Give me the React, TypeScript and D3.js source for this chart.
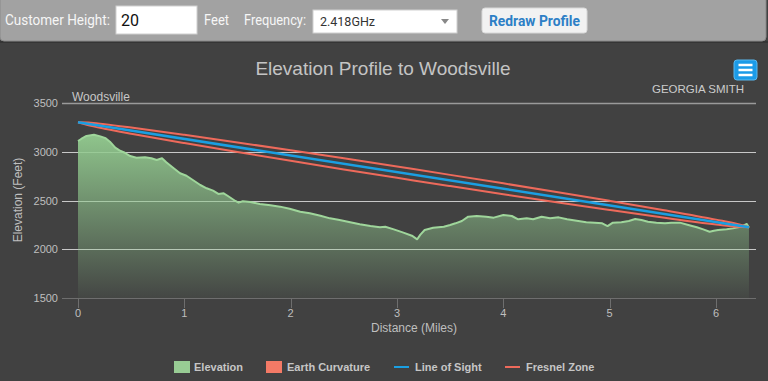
import React from "react";
import * as d3 from "d3";

// ---- Data ----
const distances = [0.0,0.03,0.08,0.15,0.21,0.26,0.30,0.35,0.39,0.44,0.49,0.55,0.63,0.69,0.74,0.79,0.83,0.90,0.96,1.02,1.08,1.15,1.21,1.27,1.32,1.37,1.41,1.48,1.51,1.55,1.62,1.71,1.81,1.90,1.99,2.09,2.18,2.28,2.37,2.46,2.56,2.65,2.75,2.84,2.89,2.97,3.06,3.14,3.19,3.22,3.26,3.34,3.44,3.50,3.55,3.61,3.67,3.75,3.84,3.91,4.00,4.08,4.14,4.22,4.28,4.36,4.44,4.52,4.60,4.69,4.78,4.86,4.93,4.98,5.03,5.11,5.18,5.24,5.30,5.36,5.44,5.52,5.58,5.66,5.74,5.82,5.88,5.94,5.98,6.02,6.10,6.16,6.23,6.27,6.29,6.31];
const elevations = [3110,3131,3162,3175,3158,3138,3103,3042,3015,2990,2956,2939,2943,2933,2915,2933,2892,2830,2779,2754,2710,2659,2625,2601,2567,2574,2546,2495,2478,2492,2485,2464,2451,2437,2416,2385,2369,2344,2317,2300,2276,2256,2238,2225,2231,2204,2170,2139,2102,2150,2197,2220,2231,2249,2266,2290,2334,2341,2334,2324,2351,2341,2307,2317,2307,2334,2317,2327,2307,2293,2278,2273,2266,2238,2273,2276,2290,2310,2300,2283,2273,2266,2273,2273,2249,2225,2204,2180,2190,2197,2204,2214,2231,2249,2259,2221];
const losDist = [0, 6.31];
const losElev = [3302, 2226];
const fresnelDist = [0,0.1,0.25,0.5,1,1.5,2,2.5,3,3.155,3.5,4,4.5,5,5.5,6,6.2,6.31];
const fresnelRadius = [0,14.5,22.6,31.3,42.4,49.4,54.0,56.7,57.9,58,57.6,55.9,52.5,47.0,38.8,25.1,15.2,0];
const xTicks = [0,1,2,3,4,5,6];
const yTicks = [1500,2000,2500,3000,3500];
const legendItems = ["Elevation","Earth Curvature","Line of Sight","Fresnel Zone"];

const FONT = "'Liberation Sans', Arial, sans-serif";

export default function App() {
  const x = d3.scaleLinear().domain([0, 6]).range([78, 716]);
  const y = d3.scaleLinear().domain([1500, 3500]).range([298, 103]);
  const plotL = 62, plotR = 756;

  const elevData = distances.map((d, i) => [d, elevations[i]] as [number, number]);
  const area = d3.area<[number, number]>().x(d => x(d[0])).y0(y(1500)).y1(d => y(d[1]));
  const line = d3.line<[number, number]>().x(d => x(d[0])).y(d => y(d[1]));
  const losScale = d3.scaleLinear().domain(losDist).range(losElev);
  const losData = losDist.map((d, i) => [d, losElev[i]] as [number, number]);
  const fresUp = fresnelDist.map((d, i) => [d, losScale(d) + fresnelRadius[i]] as [number, number]);
  const fresDn = fresnelDist.map((d, i) => [d, losScale(d) - fresnelRadius[i]] as [number, number]);
  const smooth = d3.line<[number, number]>().x(d => x(d[0])).y(d => y(d[1])).curve(d3.curveMonotoneX);

  const legendX = [174, 266, 394, 505];
  const legendTextX = [194, 287, 415, 526];

  return (
    <div style={{ position: "absolute", left: 0, top: 0, width: 768, height: 381 }}>
      <svg width={768} height={381} style={{ display: "block" }}>
        <defs>
          <linearGradient id="elevGrad" gradientUnits="userSpaceOnUse" x1={0} y1={128} x2={0} y2={305}>
            <stop offset="0" stopColor="#92ca8f" stopOpacity={1} />
            <stop offset="1" stopColor="#92ca8f" stopOpacity={0} />
          </linearGradient>
        </defs>
        {/* backgrounds */}
        <rect x={0} y={0} width={768} height={381} fill="#414141" />
        <rect x={0} y={41} width={768} height={2} fill="#353535" />
        <rect x={0} y={-4} width={766} height={45} rx={4} fill="#a2a2a2" stroke="#8a8a8a" strokeWidth={1} />

        {/* toolbar */}
        <g fontFamily="Roboto, 'Liberation Sans', sans-serif" fontSize={14} fill="#f6f6f6">
          <text x={5} y={25} textLength={105} lengthAdjust="spacingAndGlyphs">Customer Height:</text>
          <rect x={116} y={6} width={81} height={28} fill="#ffffff" stroke="#cfcfcf" />
          <text x={121} y={26} fill="#111" fontSize={16}>20</text>
          <text x={204} y={25} textLength={25} lengthAdjust="spacingAndGlyphs">Feet</text>
          <text x={244} y={25} textLength={62} lengthAdjust="spacingAndGlyphs">Frequency:</text>
          <rect x={313} y={10} width={144} height={23} fill="#ffffff" stroke="#cfcfcf" />
          <text x={320} y={26} fill="#333" fontSize={12.5}>2.418GHz</text>
          <path d="M441,19 L449,19 L445,24 Z" fill="#888" />
          <rect x={482} y={8} width={105} height={25} rx={3} fill="#f2f2f2" stroke="#d8d8d8" />
          <text x={489} y={26} fill="#2d7fc6" fontWeight="bold" textLength={91} lengthAdjust="spacingAndGlyphs">Redraw Profile</text>
        </g>

        {/* title */}
        <text x={383} y={75} textAnchor="middle" fontFamily={FONT} fontSize={19} fill="#c4c4c4">Elevation Profile to Woodsville</text>
        <text x={744} y={93} textAnchor="end" fontFamily={FONT} fontSize={11.5} fill="#cccccc">GEORGIA SMITH</text>

        {/* menu button */}
        <rect x={734} y={60} width={23} height={20} rx={3} fill="#1b9be8" stroke="#5ab8ee" strokeWidth={1} />
        {[65, 70, 75].map(yy => (
          <line key={yy} x1={738.5} x2={752.5} y1={yy} y2={yy} stroke="#fff" strokeWidth={2.5} />
        ))}

        {/* grid */}
        {yTicks.filter(t => t > 1500).map(t => (
          <line key={t} x1={plotL} x2={plotR} y1={Math.round(y(t)) + 0.5} y2={Math.round(y(t)) + 0.5}
            stroke={t === 3500 ? "#9a9a9a" : "#c8c8c8"} strokeWidth={t === 3500 ? 1.5 : 1} />
        ))}
        <text x={72} y={101} fontFamily={FONT} fontSize={12} fill="#c8c8c8">Woodsville</text>

        {/* elevation area */}
        <path d={area(elevData) || ""} fill="url(#elevGrad)" />
        <path d={line(elevData) || ""} fill="none" stroke="#9fd69b" strokeWidth={2} strokeLinejoin="round" />

        {/* fresnel + LOS */}
        <path d={smooth(fresUp) || ""} fill="none" stroke="#ee6a5b" strokeWidth={2} />
        <path d={smooth(fresDn) || ""} fill="none" stroke="#ee6a5b" strokeWidth={2} />
        <path d={line(losData) || ""} fill="none" stroke="#1a9fe2" strokeWidth={2.5} />

        {/* x axis */}
        <line x1={plotL} x2={plotR} y1={298.5} y2={298.5} stroke="#6e6e6e" strokeWidth={1} />
        {xTicks.map(t => (
          <g key={t}>
            <line x1={Math.round(x(t)) + 0.5} x2={Math.round(x(t)) + 0.5} y1={298} y2={308} stroke="#6e6e6e" />
            <text x={x(t)} y={317} textAnchor="middle" fontFamily={FONT} fontSize={11} fill="#bfbfbf">{t}</text>
          </g>
        ))}
        <text x={414} y={332} textAnchor="middle" fontFamily={FONT} fontSize={12} fill="#bfbfbf">Distance (Miles)</text>

        {/* y axis */}
        {yTicks.map(t => (
          <text key={t} x={58} y={y(t) + 4} textAnchor="end" fontFamily={FONT} fontSize={11} fill="#bfbfbf">{t}</text>
        ))}
        <text transform="translate(22,200) rotate(-90)" textAnchor="middle" fontFamily={FONT} fontSize={12} fill="#bfbfbf">Elevation (Feet)</text>

        {/* legend */}
        <g fontFamily={FONT} fontSize={11} fontWeight="bold" fill="#c6c6c6">
          <rect x={legendX[0]} y={361} width={16} height={12} fill="#98cc94" />
          <rect x={legendX[1]} y={361} width={16} height={12} fill="#f47a66" />
          <line x1={legendX[2]} x2={legendX[2] + 15} y1={367} y2={367} stroke="#1a9fe2" strokeWidth={2} />
          <line x1={legendX[3]} x2={legendX[3] + 15} y1={367} y2={367} stroke="#ee6a5b" strokeWidth={2} />
          {legendItems.map((s, i) => (
            <text key={s} x={legendTextX[i]} y={371}>{s}</text>
          ))}
        </g>
      </svg>
    </div>
  );
}
